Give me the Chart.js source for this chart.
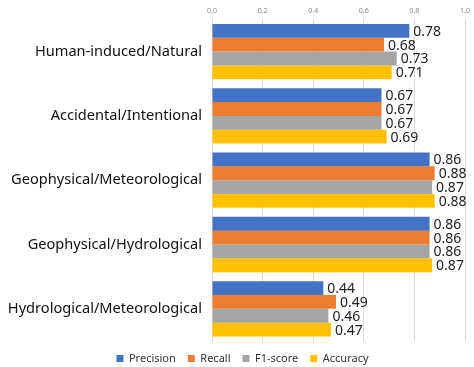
<!DOCTYPE html>
<html>
<head>
<meta charset="utf-8">
<script src="https://cdn.jsdelivr.net/npm/chart.js@4/dist/chart.umd.min.js"></script>
<style>
  html, body { margin: 0; padding: 0; background: #fff; }
  #wrap { width: 474px; height: 367px; }
</style>
</head>
<body>
<div id="wrap"><canvas id="metricChart" width="474" height="367"></canvas></div>
<script>
const categories = ["Human-induced/Natural", "Accidental/Intentional", "Geophysical/Meteorological", "Geophysical/Hydrological", "Hydrological/Meteorological"];
const precision = [0.78, 0.67, 0.86, 0.86, 0.44];
const recall = [0.68, 0.67, 0.88, 0.86, 0.49];
const f1score = [0.73, 0.67, 0.87, 0.86, 0.46];
const accuracy = [0.71, 0.69, 0.88, 0.87, 0.47];
const xTicks = [0, 0.2, 0.4, 0.6, 0.8, 1.0];

// draws the number right of each bar
const valueLabels = {
    id: "valueLabels",
    afterDatasetsDraw(chart) {
        const ctx = chart.ctx;
        ctx.save();
        ctx.font = "14px 'Noto Sans'";
        ctx.fillStyle = "#222";
        ctx.textBaseline = "middle";
        ctx.textAlign = "left";
        chart.data.datasets.forEach(function (ds, i) {
            chart.getDatasetMeta(i).data.forEach(function (bar, j) {
                ctx.fillText(ds.data[j].toFixed(2), bar.x + 4, bar.y + 1);
            });
        });
        ctx.restore();
    }
};

// nudge the legend a bit to the right, like the original
const legendShift = {
    id: "legendShift",
    afterLayout(chart) {
        chart.legend.left += 10;
        chart.legend.right += 10;
    }
};

new Chart("metricChart", {
    type: "bar",
    data: {
        labels: categories,
        datasets: [
            { label: "Precision", data: precision, backgroundColor: "#4472C4" },
            { label: "Recall", data: recall, backgroundColor: "#ED7D31" },
            { label: "F1-score", data: f1score, backgroundColor: "#A5A5A5" },
            { label: "Accuracy", data: accuracy, backgroundColor: "#FFC000" }
        ]
    },
    options: {
        indexAxis: "y",
        responsive: false,
        animation: false,
        datasets: { bar: { categoryPercentage: 0.86, barPercentage: 1.0 } },
        layout: { padding: { top: 3, right: 9, left: 0, bottom: -7 } },
        scales: {
            x: {
                position: "top",
                min: 0,
                max: 1,
                afterBuildTicks: function (axis) {
                    axis.ticks = xTicks.map(function (v) { return { value: v }; });
                },
                ticks: {
                    padding: 4,
                    color: "#888",
                    font: { size: 7, family: "'Noto Sans'" },
                    callback: function (v) { return v.toFixed(1); }
                },
                grid: { color: "#d9d9d9", drawTicks: false },
                border: { display: false }
            },
            y: {
                afterFit: function (axis) { axis.width = 212; },
                ticks: {
                    color: "#111",
                    padding: 10,
                    font: { size: 14.6, family: "'Noto Sans'" }
                },
                grid: { display: false, drawTicks: false },
                border: { display: false }
            }
        },
        plugins: {
            legend: {
                position: "bottom",
                labels: {
                    boxWidth: 7,
                    boxHeight: 7,
                    padding: 12,
                    color: "#333",
                    font: { size: 11, family: "'Noto Sans'" }
                }
            },
            tooltip: { enabled: false }
        }
    },
    plugins: [valueLabels, legendShift]
});
</script>
</body>
</html>
